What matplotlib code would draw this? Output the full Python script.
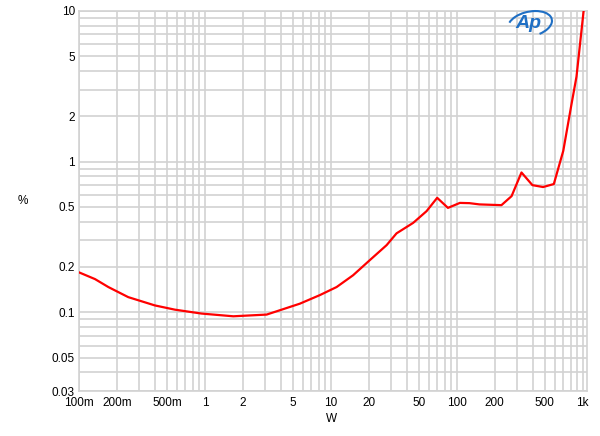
import matplotlib
matplotlib.use("Agg")
import matplotlib.pyplot as plt
from matplotlib.ticker import LogLocator, NullFormatter
from matplotlib.patches import Arc

plt.rcParams['font.family'] = ['Liberation Sans', 'DejaVu Sans']

power_w = [0.1, 0.134, 0.171, 0.246, 0.40, 0.578, 0.94, 1.68, 3.09, 5.67, 8.18,
           11.1, 15.0, 20.4, 27.7, 33.2, 45.0, 57.5, 69.8, 85.0, 105.7, 126, 151,
           226, 272, 326, 398, 484, 589, 700, 813, 891, 1015]
thd_pct = [0.184, 0.166, 0.147, 0.126, 0.111, 0.104, 0.098, 0.094, 0.0965, 0.114, 0.130,
           0.147, 0.176, 0.222, 0.279, 0.334, 0.392, 0.469, 0.575, 0.493, 0.532, 0.53, 0.52,
           0.514, 0.59, 0.847, 0.698, 0.678, 0.71, 1.18, 2.4, 3.66, 10.0]

x_ticks = [0.1, 0.2, 0.5, 1, 2, 5, 10, 20, 50, 100, 200, 500, 1000]
x_labels = ['100m', '200m', '500m', '1', '2', '5', '10', '20', '50', '100', '200', '500', '1k']
y_ticks = [0.03, 0.05, 0.1, 0.2, 0.5, 1, 2, 5, 10]
y_labels = ['0.03', '0.05', '0.1', '0.2', '0.5', '1', '2', '5', '10']

fig = plt.figure(figsize=(6.0, 4.36), dpi=100)
ax = fig.add_axes([79/600, 1-391/436, (587-79)/600, (391-11)/436])
ax.set_xscale('log')
ax.set_yscale('log')
ax.set_xlim(0.1, 1080)
ax.set_ylim(0.03, 10)

gc = '#d2d2d2'
ax.xaxis.set_minor_locator(LogLocator(base=10, subs=range(2, 10), numticks=50))
ax.yaxis.set_minor_locator(LogLocator(base=10, subs=range(2, 10), numticks=50))
ax.xaxis.set_minor_formatter(NullFormatter())
ax.yaxis.set_minor_formatter(NullFormatter())
ax.set_xticks(x_ticks)
ax.set_xticklabels(x_labels)
ax.set_yticks(y_ticks)
ax.set_yticklabels(y_labels)
ax.grid(True, which='both', color=gc, linewidth=1.2)
ax.set_axisbelow(True)
ax.tick_params(which='both', length=0, labelsize=8.5, colors='black')
ax.tick_params(axis='x', pad=4)
ax.tick_params(axis='y', pad=3)
for s in ax.spines.values():
    s.set_color(gc)
    s.set_linewidth(1.2)

ax.plot(power_w, thd_pct, color='#ff0000', linewidth=1.6, clip_on=True, zorder=3)

fig.text(23/600, 1-201/436, '%', fontsize=8.5, ha='center', va='center')
fig.text(332/600, 1-419/436, 'W', fontsize=8.5, ha='center', va='center')

# AP logo
logo_c = '#1f6fc4'
fig.text(528/600, 1-24/436, 'Ap', fontsize=14, fontstyle='italic', fontweight='bold',
         color=logo_c, ha='center', va='center', zorder=5)
arc = Arc((530/600, 1-24/436), 46/600, 24/436, angle=25, theta1=280, theta2=150,
          color=logo_c, linewidth=1.5, transform=fig.transFigure)
fig.add_artist(arc)

fig.savefig('out.png', dpi=100)
